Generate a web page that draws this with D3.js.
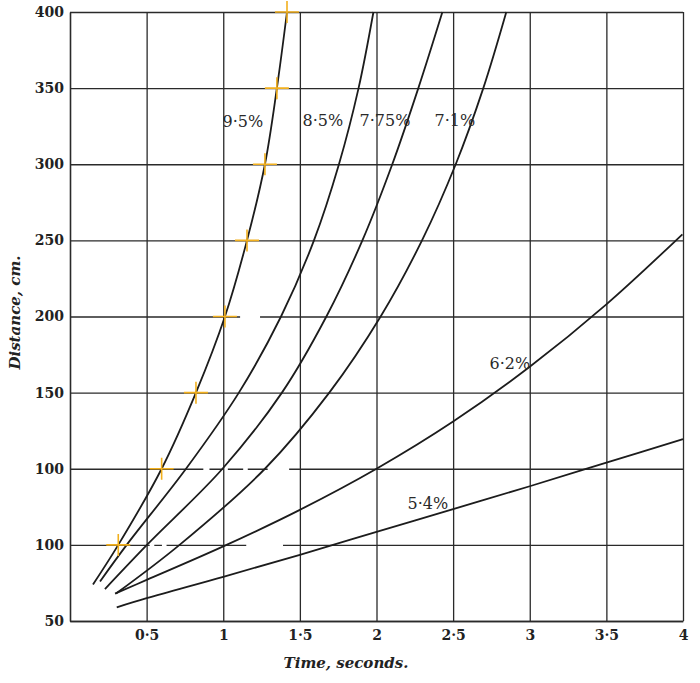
<!DOCTYPE html>
<html>
<head>
<meta charset="utf-8">
<script src="https://cdn.jsdelivr.net/npm/d3@7"></script>
<style>
  body { margin: 0; background: #fff; }
</style>
</head>
<body>
<div id="chart"></div>
<script>
// ticks as printed on the plate (the lower "100" is a misprint in the original)
var xTicks = [0.5, 1, 1.5, 2, 2.5, 3, 3.5, 4];
var yTicks = [0, 50, 100, 150, 200, 250, 300, 350, 400];
var yTickLabels = ["50", "100", "100", "150", "200", "250", "300", "350", "400"];

var curveNames = ["9·5%", "8·5%", "7·75%", "7·1%", "6·2%", "5·4%"];
var t95 = [0.150, 0.315, 0.598, 0.822, 1.011, 1.155, 1.272, 1.350, 1.416];
var d95 = [24, 50, 100, 150, 200, 250, 300, 350, 400];
var t85 = [0.196, 0.370, 0.757, 1.102, 1.377, 1.592, 1.755, 1.883, 1.980];
var d85 = [26, 50, 100, 150, 200, 250, 300, 350, 400];
var t775 = [0.228, 0.502, 0.995, 1.383, 1.673, 1.908, 2.103, 2.273, 2.430];
var d775 = [21, 50, 100, 150, 200, 250, 300, 350, 400];
var t71 = [0.300, 0.715, 1.272, 1.692, 2.027, 2.297, 2.517, 2.697, 2.847];
var d71 = [18, 50, 100, 150, 200, 250, 300, 350, 400];
var t62 = [0.294, 0.500, 1.000, 1.500, 2.000, 2.500, 3.000, 3.500, 3.996];
var d62 = [18, 27, 49, 73, 100, 131, 167, 208, 254];
var t54 = [0.305, 0.500, 1.000, 1.500, 2.000, 2.500, 3.000, 3.500, 4.000];
var d54 = [9, 15, 29, 43.5, 58.5, 73.5, 88.5, 104, 119.5];

// orange crosses marked on the 9.5% curve
var crossT = [0.315, 0.598, 0.822, 1.011, 1.155, 1.272, 1.350, 1.416];
var crossD = [50, 100, 150, 200, 250, 300, 350, 400];

// where the curve labels sit
var labelT = [1.128, 1.650, 2.055, 2.511, 2.870, 2.335];
var labelD = [328, 329, 329, 329, 169, 77];

var allT = [t95, t85, t775, t71, t62, t54];
var allD = [d95, d85, d775, d71, d62, d54];

var margin = {top: 12, right: 17, bottom: 62, left: 70},
    width = 700 - margin.left - margin.right,
    height = 683 - margin.top - margin.bottom;

var svg = d3.select("#chart")
  .append("svg")
    .attr("width", width + margin.left + margin.right)
    .attr("height", height + margin.top + margin.bottom)
  .append("g")
    .attr("transform", "translate(" + margin.left + "," + margin.top + ")");

var x = d3.scaleLinear().domain([0, 4]).range([0, width]);
var y = d3.scaleLinear().domain([0, 400]).range([height, 0]);

var serif = "'DejaVu Serif', 'Liberation Serif', serif";
var ink = "#2a2a2a";

// grid + frame come from the axes
var xAxis = svg.append("g")
  .attr("transform", "translate(0," + height + ")")
  .call(d3.axisBottom(x)
    .tickValues(xTicks)
    .tickSize(-height)
    .tickSizeOuter(0)
    .tickPadding(9)
    .tickFormat(function(d) { return String(d).replace(".", "·"); }));

var yAxis = svg.append("g")
  .call(d3.axisLeft(y)
    .tickValues(yTicks)
    .tickSize(-width)
    .tickSizeOuter(0)
    .tickPadding(6)
    .tickFormat(function(d, i) { return yTickLabels[i]; }));

[xAxis, yAxis].forEach(function(ax) {
  ax.select(".domain").attr("stroke", ink).attr("stroke-width", 1.6);
  ax.selectAll(".tick line").attr("stroke", ink).attr("stroke-width", 1.3);
  ax.selectAll(".tick text")
    .attr("fill", "#222")
    .style("font-family", serif)
    .style("font-weight", "bold")
    .style("font-size", "14px");
});

// the printed rules break up in a few places (in seconds along the rule)
var ruleBreaks = {
  50:  [[0.52, 0.55], [0.60, 0.63], [1.15, 1.39]],
  100: [[0.87, 0.91], [1.00, 1.03], [1.13, 1.16], [1.29, 1.43]],
  200: [[1.11, 1.24]]
};
yAxis.selectAll(".tick line").each(function(d) {
  var br = ruleBreaks[d];
  if (!br) return;
  var dash = [], pos = 0;
  br.forEach(function(b) {
    dash.push(x(b[0]) - pos, x(b[1]) - x(b[0]));
    pos = x(b[1]);
  });
  dash.push(width - pos + 10, 0);
  // tick lines run from 0 to width, so the dash pattern starts at the left edge
  d3.select(this)
    .attr("x1", 0).attr("x2", width)
    .attr("stroke-dasharray", dash.join(","));
});

// the curves
var line = d3.line()
  .x(function(p) { return x(p[0]); })
  .y(function(p) { return y(p[1]); })
  .curve(d3.curveCatmullRom.alpha(0.5));

allT.forEach(function(ts, i) {
  var pts = ts.map(function(t, j) { return [t, allD[i][j]]; });
  svg.append("path")
    .datum(pts)
    .attr("fill", "none")
    .attr("stroke", "#1c1c1c")
    .attr("stroke-width", 1.8)
    .attr("d", line);
});

// crosses
svg.append("g")
  .selectAll("path")
  .data(crossT)
  .enter().append("path")
    .attr("transform", function(t, i) { return "translate(" + x(t) + "," + y(crossD[i]) + ")"; })
    .attr("d", "M-12,0H12M0,-11V11")
    .attr("stroke", "#f2b01e")
    .attr("stroke-width", 1.6)
    .attr("fill", "none");

// curve labels
svg.append("g")
  .selectAll("text")
  .data(curveNames)
  .enter().append("text")
    .attr("x", function(d, i) { return x(labelT[i]); })
    .attr("y", function(d, i) { return y(labelD[i]); })
    .attr("dy", "0.35em")
    .style("text-anchor", "middle")
    .style("font-family", serif)
    .style("font-size", "16px")
    .attr("fill", "#2a2a2a")
    .text(function(d) { return d; });

// axis titles
svg.append("text")
  .attr("transform", "rotate(-90)")
  .attr("x", -height / 2 + 4)
  .attr("y", 20 - margin.left)
  .style("text-anchor", "middle")
  .style("font-family", serif)
  .style("font-style", "italic")
  .style("font-weight", "bold")
  .style("font-size", "15px")
  .attr("fill", "#222")
  .text("Distance, cm.");

svg.append("text")
  .attr("x", 346 - margin.left)
  .attr("y", height + 47)
  .style("text-anchor", "middle")
  .style("font-family", serif)
  .style("font-style", "italic")
  .style("font-weight", "bold")
  .style("font-size", "15px")
  .attr("fill", "#222")
  .text("Time, seconds.");
</script>
</body>
</html>
